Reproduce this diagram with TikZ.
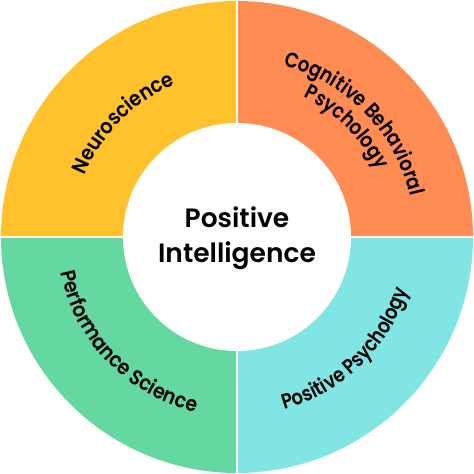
\documentclass[tikz,border=0pt]{standalone}
\usepackage{fontspec}
\setmainfont{Poppins}
\newfontfamily\popm{Poppins-SemiBold}
\newfontfamily\popn{Poppins-SemiBold}[FakeStretch=0.9]
\newfontfamily\popc{Poppins-SemiBold}[FakeStretch=0.86]
\newfontfamily\popp{Poppins-SemiBold}[FakeStretch=0.85]
\usetikzlibrary{decorations.text}
\definecolor{cyel}{RGB}{255,194,44}
\definecolor{cora}{RGB}{255,140,82}
\definecolor{cgre}{RGB}{100,216,160}
\definecolor{ccya}{RGB}{128,229,227}
\newcommand{\lblfont}{\popn\fontsize{21}{24}\selectfont}
\newcommand{\lblfontc}{\popc\fontsize{21}{24}\selectfont}
\newcommand{\lblfontp}{\popp\fontsize{21}{24}\selectfont}
\tikzset{
  sector/.style={draw=none},
  gapline/.style={draw=white,line width=2pt},
  arclabel/.style={decorate,decoration={text along path,text align=center,text={#1}}},
  centertext/.style={font=\popm\fontsize{26.5}{34}\selectfont,anchor=base,inner sep=0pt}
}
\begin{document}
\begin{tikzpicture}[x=1pt,y=1pt]
\useasboundingbox (-237,-237) rectangle (237,237);
\fill[white] (-237,-237) rectangle (237,237);
\def\R{236}
\def\r{114}
\fill[cyel] (0,0) -- (90:\R) arc (90:180:\R) -- cycle;
\fill[cora] (0,0) -- (0:\R) arc (0:90:\R) -- cycle;
\fill[cgre] (0,0) -- (180:\R) arc (180:270:\R) -- cycle;
\fill[ccya] (0,0) -- (270:\R) arc (270:360:\R) -- cycle;
\coordinate (T) at (0,237);
\coordinate (B) at (0,-237);
\coordinate (L) at (-237,0);
\coordinate (Rt) at (237,0);
\draw[gapline] (T) -- (B);
\draw[gapline] (L) -- (Rt);
\fill[white] (0,0) circle (\r);
\node[centertext] (t1) at (0,10) {Positive};
\node[centertext] (t2) at (0,-25) {Intelligence};
\path[arclabel={|\lblfont|Neuroscience}] (180:164) arc (180:90:164);
\path[arclabel={|\lblfontc|Cognitive Behavioral}] (89:178) arc (89:-1:178);
\path[arclabel={|\lblfontc|Psychology}] (90:155) arc (90:0:155);
\path[arclabel={|\lblfont|Performance Science}] (179:180) arc (179:269:180);
\path[arclabel={|\lblfontp|Positive Psychology}] (269:179) arc (269:359:179);
\end{tikzpicture}
\end{document}
